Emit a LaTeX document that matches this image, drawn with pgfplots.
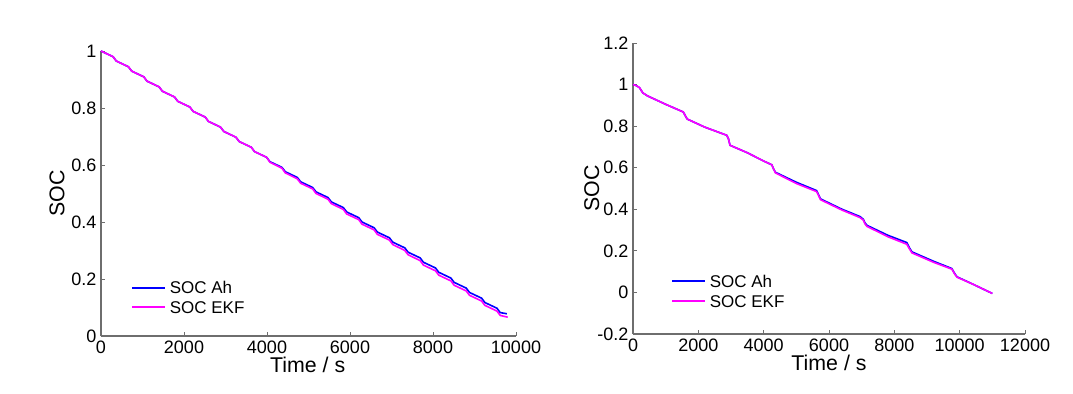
\documentclass[border=0pt]{standalone}
\usepackage{fontspec}
\setmainfont{Liberation Sans}
\usepackage{pgfplots}
\pgfplotsset{compat=1.18}
\definecolor{socblue}{RGB}{0,0,255}
\definecolor{socmag}{RGB}{255,0,255}
\definecolor{axgray}{RGB}{110,110,110}
\pgfplotsset{
  socstyle/.style={
    scale only axis,
    axis lines=left,
    axis line style={-,draw=axgray,line width=0.8pt},
    tick style={draw=axgray,line width=0.6pt},
    tick align=inside,
    major tick length=3pt,
    /pgf/number format/assume math mode=true,
    /pgf/number format/1000 sep={},
    scaled x ticks=false,
    scaled y ticks=false,
    ticklabel style={font=\fontsize{13.5}{15}\selectfont, text=black},
    label style={font=\fontsize{16}{18}\selectfont},
    clip=false,
    legend cell align=left,
    legend style={draw=none, fill=none, font=\fontsize{12.75}{14}\selectfont,
      nodes={text height=9.5pt, text depth=0pt, inner sep=2.5pt},
      row sep=0pt},
  },
  ahline/.style={color=socblue, line width=1.2pt,
    legend image code/.code={\path[draw=socblue, line width=1.6pt] (0pt,0pt) -- (25pt,0pt);}},
  ekfline/.style={color=socmag, line width=1.2pt,
    legend image code/.code={\path[draw=socmag, line width=1.6pt] (0pt,0pt) -- (25pt,0pt);}},
}
\begin{document}
\begin{tikzpicture}
\useasboundingbox (0,0) rectangle (804.75pt,294.75pt);
% ---------------- left axis ----------------
\begin{axis}[socstyle,
  at={(75.75pt,42.75pt)}, anchor=south west,
  width=311.25pt, height=213.75pt,
  xmin=0, xmax=10000, ymin=0, ymax=1,
  xtick={0,2000,4000,6000,8000,10000},
  ytick={0,0.2,0.4,0.6,0.8,1},
  yticklabels={0,0.2,0.4,0.6,0.8,1},
  xlabel={Time / s}, ylabel={SOC},
  xlabel style={at={(axis description cs:0.498,-0.102)}, anchor=center},
  ylabel style={at={(axis description cs:-0.106,0.5)}, anchor=center, rotate=0},
  legend style={at={(rel axis cs:0.062,0.214)}, anchor=north west},
]
\addplot[ahline] coordinates {
(0,1.000) (290,0.980) (370,0.9647) (660,0.9447) (740,0.9294) (1030,0.9094)
(1110,0.8941) (1400,0.8741) (1480,0.8588) (1770,0.8388) (1850,0.8235) (2140,0.8035)
(2220,0.7882) (2510,0.7682) (2590,0.7529) (2880,0.7329) (2960,0.7176) (3250,0.6976)
(3330,0.6823) (3620,0.6623) (3700,0.6470) (3990,0.6270) (4070,0.6117) (4360,0.5917)
(4440,0.5764) (4730,0.5564) (4810,0.5411) (5100,0.5211) (5180,0.5058) (5470,0.4858)
(5550,0.4705) (5840,0.4505) (5920,0.4352) (6210,0.4152) (6290,0.3999) (6580,0.3799)
(6660,0.3646) (6950,0.3446) (7030,0.3293) (7320,0.3093) (7400,0.2940) (7690,0.2740)
(7770,0.2587) (8060,0.2387) (8140,0.2234) (8430,0.2034) (8510,0.1881) (8800,0.1681)
(8880,0.1528) (9170,0.1328) (9250,0.1175) (9540,0.0975) (9620,0.0822) (9780,0.078)
};
\addlegendentry{SOC Ah}
\addplot[ekfline] coordinates {
(0,1.000) (290,0.980) (370,0.9647) (660,0.9447) (740,0.9294) (1030,0.9094)
(1110,0.8941) (1400,0.8741) (1480,0.8588) (1770,0.8388) (1850,0.8235) (2140,0.8035)
(2220,0.7882) (2510,0.7682) (2590,0.7529) (2880,0.7329) (2960,0.7176) (3250,0.6976)
(3330,0.6823) (3620,0.6623) (3700,0.6470) (3990,0.6270) (4070,0.6097) (4360,0.5887)
(4440,0.5724) (4730,0.5514) (4810,0.5361) (5100,0.5161) (5180,0.5003) (5470,0.4798)
(5550,0.4645) (5840,0.4440) (5920,0.4282) (6210,0.4082) (6290,0.3924) (6580,0.3724)
(6660,0.3566) (6950,0.3366) (7030,0.3208) (7320,0.3003) (7400,0.2850) (7690,0.2645)
(7770,0.2487) (8060,0.2287) (8140,0.2134) (8430,0.1934) (8510,0.1781) (8800,0.1581)
(8880,0.1428) (9170,0.1228) (9250,0.1075) (9540,0.0875) (9620,0.0722) (9800,0.066)
};
\addlegendentry{SOC EKF}
\end{axis}
% ---------------- right axis ----------------
\begin{axis}[socstyle,
  at={(474.75pt,44.25pt)}, anchor=south west,
  width=294pt, height=218.25pt,
  xmin=0, xmax=12000, ymin=-0.2, ymax=1.2,
  xtick={0,2000,4000,6000,8000,10000,12000},
  ytick={-0.2,0,0.2,0.4,0.6,0.8,1,1.2},
  yticklabels={-0.2,0,0.2,0.4,0.6,0.8,1,1.2},
  xlabel={Time / s}, ylabel={SOC},
  xlabel style={at={(axis description cs:0.5,-0.1)}, anchor=center},
  ylabel style={at={(axis description cs:-0.105,0.5)}, anchor=center, rotate=0},
  legend style={at={(rel axis cs:0.086,0.224)}, anchor=north west},
]
\addplot[ahline] coordinates {
(0,1.0) (100,0.995) (200,0.985) (300,0.960) (450,0.945) (1000,0.905)
(1540,0.868) (1600,0.850) (1660,0.834) (2200,0.795) (2870,0.756) (2920,0.740)
(2970,0.708) (3500,0.672) (4000,0.632) (4250,0.614) (4300,0.595) (4360,0.578)
(5000,0.530) (5620,0.490) (5680,0.470) (5740,0.450) (6400,0.400) (6950,0.365)
(7050,0.352) (7100,0.335) (7160,0.323) (7800,0.275) (8380,0.240) (8460,0.215)
(8540,0.195) (9200,0.150) (9760,0.115) (9850,0.090) (9920,0.075) (10400,0.040)
(11000,-0.005)
};
\addlegendentry{SOC Ah}
\addplot[ekfline] coordinates {
(0,1.0) (100,0.995) (200,0.985) (300,0.960) (450,0.945) (1000,0.905)
(1540,0.868) (1600,0.850) (1660,0.834) (2200,0.795) (2870,0.756) (2920,0.740)
(2970,0.708) (3500,0.672) (4000,0.632) (4250,0.614) (4300,0.595) (4360,0.575)
(5000,0.524) (5620,0.485) (5680,0.466) (5740,0.446) (6400,0.396) (6950,0.360)
(7050,0.348) (7100,0.330) (7160,0.318) (7800,0.268) (8380,0.232) (8460,0.210)
(8540,0.190) (9200,0.145) (9760,0.112) (9850,0.088) (9920,0.073) (10400,0.040)
(11000,-0.005)
};
\addlegendentry{SOC EKF}
\end{axis}
\end{tikzpicture}
\end{document}
